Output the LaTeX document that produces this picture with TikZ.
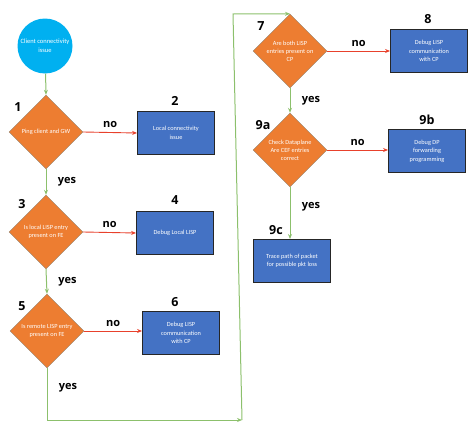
\documentclass[tikz,border=0pt]{standalone}
\usepackage{fontspec}
\setmainfont{Carlito}
\newfontfamily\lblfont{Open Sans}
\usetikzlibrary{shapes.geometric,arrows.meta}
\definecolor{stepOrange}{HTML}{ED7D31}
\definecolor{stepBlue}{HTML}{4472C4}
\definecolor{startCyan}{HTML}{00B0F0}
\definecolor{yesGreen}{HTML}{8CC06C}
\definecolor{noRed}{HTML}{E8412C}
\begin{document}
\begin{tikzpicture}[
        x=1pt, y=-1pt,
        start/.style={
            circle,
            fill=startCyan,
            minimum size=55pt,
            inner sep=0pt,
            align=center,
            text=white,
            font=\fontsize{6.5}{8.5}\selectfont
        },
        decision/.style={
            diamond,
            fill=stepOrange,
            draw=gray!70!brown,
            line width=0.4pt,
            minimum width=74pt,
            minimum height=74pt,
            inner sep=0pt,
            align=center,
            text=white,
            font=\fontsize{6.3}{8}\selectfont
        },
        action/.style={
            rectangle,
            fill=stepBlue,
            draw=black!85,
            line width=0.9pt,
            minimum width=77pt,
            minimum height=43pt,
            inner sep=0pt,
            align=center,
            text=white,
            font=\fontsize{6.3}{8.5}\selectfont
        },
        num/.style={
            font=\lblfont\bfseries\fontsize{12.5}{12.5}\selectfont
        },
        lbl/.style={
            font=\lblfont\bfseries\fontsize{11}{11}\selectfont
        },
        yesline/.style={
            draw=yesGreen,
            line width=1pt,
            -{Stealth[length=5pt,width=4pt]}
        },
        noline/.style={
            draw=noRed,
            line width=0.9pt,
            -{Stealth[length=5pt,width=4pt]}
        }
    ]
        \useasboundingbox (0,0) rectangle (474,434);

        % Left column
        \node[start] (s0) at (45,46) {Client connectivity\\issue};
        \node[decision] (d1) at (46,132) {Ping client and GW};
        \node[decision] (d3) at (46,232) {Is local LISP entry\\present on FE};
        \node[decision] (d5) at (47,331) {Is remote LISP entry\\present on FE};

        \node[action] (b2) at (176,133) {Local connectivity\\issue};
        \node[action] (b4) at (175,233) {Debug Local LISP};
        \node[action] (b6) at (181,333) {Debug LISP\\communication\\with CP};

        % Right column
        \node[decision] (d7) at (290,51) {Are both LISP\\entries present on\\CP};
        \node[decision] (d9a) at (290,150) {Check Dataplane\\Are CEF entries\\correct};

        \node[action] (b8) at (429,51) {Debug LISP\\communication\\with CP};
        \node[action] (b9b) at (427,151) {Debug DP\\forwarding\\programming};
        \node[action] (b9c) at (292,261) {Trace path of packet\\for possible pkt loss};

        % Step numbers
        \node[num] (n1) at (18,107) {1};
        \node[num] (n2) at (175,101) {2};
        \node[num] (n3) at (22,204) {3};
        \node[num] (n4) at (175,200) {4};
        \node[num] (n5) at (22,306) {5};
        \node[num] (n6) at (175,302) {6};
        \node[num] (n7) at (261,26) {7};
        \node[num] (n8) at (428,19) {8};
        \node[num] (n9a) at (263,125) {9a};
        \node[num] (n9b) at (427,120) {9b};
        \node[num] (n9c) at (276,230) {9c};

        % Loop from 5 to 7
        \coordinate (c1) at (47,420);
        \coordinate (c2) at (242,420);
        \coordinate (c3) at (233,14);

        % Connectors
        \draw[yesline] (s0) -- (d1.north);
        \draw[yesline] (d1.south) -- node[lbl, right=8pt] {yes} (d3.north);
        \draw[yesline] (d3.south) -- node[lbl, right=8pt] {yes} (d5.north);
        \draw[yesline] (d5.south) -- node[lbl, right=8pt, pos=0.38] {yes} (c1) -- (c2);
        \draw[yesline] (c2) -- (c3) -- (d7.north);
        \draw[yesline] (d7.south) -- node[lbl, right=8pt] {yes} (d9a.north);
        \draw[yesline] (d9a.south) -- node[lbl, right=8pt, pos=0.37] {yes} (b9c.north -| d9a.south);

        \draw[noline] (d1.east) -- node[lbl, above=1pt] {no} (b2.west);
        \draw[noline] (d3.east) -- node[lbl, above=1pt] {no} (b4.west);
        \draw[noline] (d5.east) -- node[lbl, above=1pt] {no} (b6.west |- d5.east);
        \draw[noline] (d7.east) -- node[lbl, above=1pt] {no} (b8.west);
        \draw[noline] (d9a.east) -- node[lbl, above=1pt] {no} (b9b.west |- d9a.east);
    \end{tikzpicture}
\end{document}
